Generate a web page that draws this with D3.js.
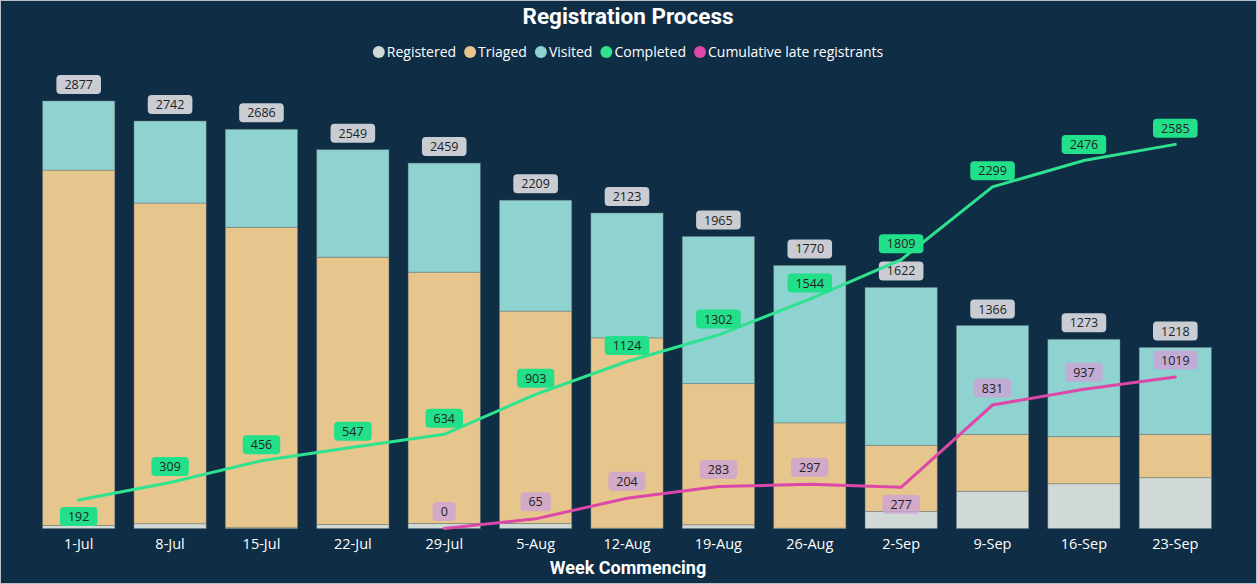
<!DOCTYPE html>
<html>
<head>
<meta charset="utf-8">
<script src="https://cdn.jsdelivr.net/npm/d3@7"></script>
<style>
  body { margin: 0; background: #0f2d45; }
  svg { display: block; }
</style>
</head>
<body>
<div id="chart"></div>
<script>
var weeks = ["1-Jul", "8-Jul", "15-Jul", "22-Jul", "29-Jul", "5-Aug", "12-Aug", "19-Aug", "26-Aug", "2-Sep", "9-Sep", "16-Sep", "23-Sep"];
var registered = [20, 32, 5, 27, 34, 34, 3, 25, 3, 115, 251, 301, 342];
var triaged = [2392, 2158, 2022, 1799, 1691, 1429, 1280, 950, 708, 445, 382, 317, 292];
var visited = [465, 552, 659, 723, 734, 746, 840, 990, 1059, 1062, 733, 655, 584];
var completed = [192, 309, 456, 547, 634, 903, 1124, 1302, 1544, 1809, 2299, 2476, 2585];
var lateRegistrants = [null, null, null, null, 0, 65, 204, 283, 297, 277, 831, 937, 1019];
// which side of the point the line labels sit on (Power BI moved a couple below)
var completedBelow = ["1-Jul"];
var lateBelow = ["2-Sep"];

var seriesNames = ["Registered", "Triaged", "Visited", "Completed", "Cumulative late registrants"];
var colors = {
  "Registered": "#d0d9d6",
  "Triaged": "#e6c68c",
  "Visited": "#8fd3d1",
  "Completed": "#2ee28f",
  "Cumulative late registrants": "#dc47a8"
};

var width = 1257, height = 584;
var font = "'Open Sans', 'Noto Sans', sans-serif";

var svg = d3.select("#chart").append("svg")
  .attr("width", width)
  .attr("height", height);

svg.append("rect")
  .attr("x", 0.5).attr("y", 0.5)
  .attr("width", width - 1).attr("height", height - 1)
  .attr("fill", "#0f2d45")
  .attr("stroke", "#b9c2ca");

var x = d3.scaleBand().domain(weeks).range([33, 1221]).paddingInner(0.21).paddingOuter(0.105);
var y = d3.scaleLinear().domain([0, 3000]).range([528.5, 528.5 - 3000 * 0.1486]);

var rows = weeks.map(function (w, i) {
  return { week: w, Registered: registered[i], Triaged: triaged[i], Visited: visited[i] };
});
var stack = d3.stack().keys(["Registered", "Triaged", "Visited"])(rows);

svg.append("g").selectAll("g")
  .data(stack)
  .join("g")
  .attr("fill", function (d) { return colors[d.key]; })
  .selectAll("rect")
  .data(function (d) { return d; })
  .join("rect")
  .attr("x", function (d) { return x(d.data.week); })
  .attr("y", function (d) { return y(d[1]); })
  .attr("width", x.bandwidth())
  .attr("height", function (d) { return y(d[0]) - y(d[1]); })
  .attr("stroke", "rgba(110,120,120,0.55)")
  .attr("stroke-width", 0.8);

function label(g, cx, cy, text, fill, opacity) {
  var t = g.append("text")
    .attr("x", cx).attr("y", cy)
    .attr("text-anchor", "middle")
    .attr("dominant-baseline", "central")
    .attr("font-family", font)
    .attr("font-size", 12.5)
    .attr("fill", "#222")
    .text(text);
  var w = t.node().getComputedTextLength() + 16;
  g.insert("rect", function () { return t.node(); })
    .attr("x", cx - w / 2).attr("y", cy - 9.5)
    .attr("width", w).attr("height", 19)
    .attr("rx", 4)
    .attr("fill", fill)
    .attr("fill-opacity", opacity);
}

// totals above the bars
var totalsG = svg.append("g");
rows.forEach(function (r) {
  var total = r.Registered + r.Triaged + r.Visited;
  label(totalsG, x(r.week) + x.bandwidth() / 2, y(total) - 16.5, total, "#c9cdd3", 1);
});

var cx = function (w) { return x(w) + x.bandwidth() / 2; };

var line = d3.line()
  .defined(function (d) { return d.v !== null; })
  .x(function (d) { return cx(d.week); })
  .y(function (d) { return y(d.v); });

var compData = weeks.map(function (w, i) { return { week: w, v: completed[i] }; });
var lateData = weeks.map(function (w, i) { return { week: w, v: lateRegistrants[i] }; });

svg.append("path")
  .datum(lateData)
  .attr("d", line)
  .attr("fill", "none")
  .attr("stroke", colors["Cumulative late registrants"])
  .attr("stroke-width", 3)
  .attr("stroke-linecap", "round");

svg.append("path")
  .datum(compData)
  .attr("d", line)
  .attr("fill", "none")
  .attr("stroke", colors["Completed"])
  .attr("stroke-width", 3)
  .attr("stroke-linecap", "round");

var lineLabels = svg.append("g");
lateData.forEach(function (d) {
  if (d.v === null) return;
  var off = lateBelow.indexOf(d.week) >= 0 ? 17 : -17;
  label(lineLabels, cx(d.week), y(d.v) + off, d.v, "#cda3d6", 0.8);
});
compData.forEach(function (d) {
  var off = completedBelow.indexOf(d.week) >= 0 ? 16.5 : -16;
  label(lineLabels, cx(d.week), y(d.v) + off, d.v, "#22e08a", 1);
});

// x axis labels
svg.append("g").selectAll("text")
  .data(weeks)
  .join("text")
  .attr("x", function (d) { return cx(d); })
  .attr("y", 549)
  .attr("text-anchor", "middle")
  .attr("font-family", font)
  .attr("font-size", 14.5)
  .attr("fill", "#ffffff")
  .text(function (d) { return d; });

svg.append("text")
  .attr("x", 628).attr("y", 574)
  .attr("text-anchor", "middle")
  .attr("font-family", "Roboto, sans-serif")
  .attr("font-weight", "bold")
  .attr("font-size", 18)
  .attr("fill", "#ffffff")
  .text("Week Commencing");

svg.append("text")
  .attr("x", 628).attr("y", 24)
  .attr("text-anchor", "middle")
  .attr("font-family", "Roboto, sans-serif")
  .attr("font-weight", "bold")
  .attr("font-size", 22.5)
  .attr("fill", "#ffffff")
  .text("Registration Process");

// legend
var legend = svg.append("g");
var lx = 0;
seriesNames.forEach(function (name) {
  legend.append("circle")
    .attr("cx", lx + 6).attr("cy", 52)
    .attr("r", 6)
    .attr("fill", colors[name]);
  var t = legend.append("text")
    .attr("x", lx + 14).attr("y", 57)
    .attr("font-family", font)
    .attr("font-size", 14)
    .attr("fill", "#ffffff")
    .text(name);
  lx += 14 + t.node().getComputedTextLength() + 8;
});
legend.attr("transform", "translate(" + (628 - (lx - 8) / 2) + ",0)");
</script>
</body>
</html>
